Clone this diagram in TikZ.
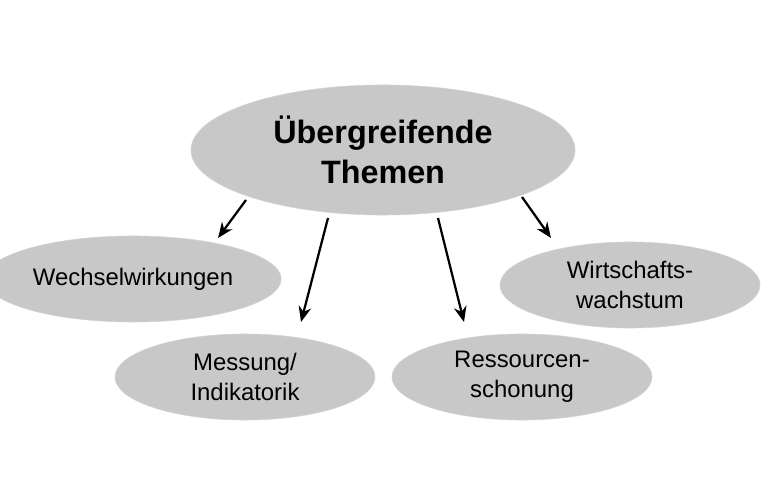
\documentclass[tikz,border=0pt]{standalone}
\usepackage{fontspec}
\setmainfont{Liberation Sans}
\usetikzlibrary{shapes.geometric, arrows.meta, positioning}
\definecolor{blobgray}{RGB}{200,200,200}

\begin{document}
\begin{tikzpicture}[x=0.025cm, y=-0.025cm,
    topic/.style={ellipse, fill=blobgray, draw=blobgray!80, align=center,
        minimum width=6.5cm, minimum height=2.15cm, font=\fontsize{17}{21}\selectfont},
    main/.style={topic, minimum width=9.6cm, minimum height=3.25cm,
        font=\fontsize{23}{28}\selectfont\bfseries}]
          \useasboundingbox (0,0) rectangle (768,503);
          \node (top) [main] at (383,150) {Übergreifende\\Themen};
          \node (ww) [topic] at (133,279) {Wechselwirkungen};
          \node (mi) [topic] at (245,377) {Messung/\\Indikatorik};
          \node (rs) [topic] at (522,377) {Ressourcen-\\schonung};
          \node (wa) [topic] at (630,285) {Wirtschafts-\\wachstum};

          \coordinate (s1) at (246,200);
          \coordinate (s2) at (328,218);
          \coordinate (s3) at (438,218);
          \coordinate (s4) at (522,197);
          \coordinate (e1) at (218,238);
          \coordinate (e2) at (301,322);
          \coordinate (e3) at (464,322);
          \coordinate (e4) at (551,238);

          \path [-{Stealth[length=11pt,width=9pt]}, line width=1.6pt]
              (s1) edge (e1)
              (s2) edge (e2)
              (s3) edge (e3)
              (s4) edge (e4)
              ;
\end{tikzpicture}
\end{document}
